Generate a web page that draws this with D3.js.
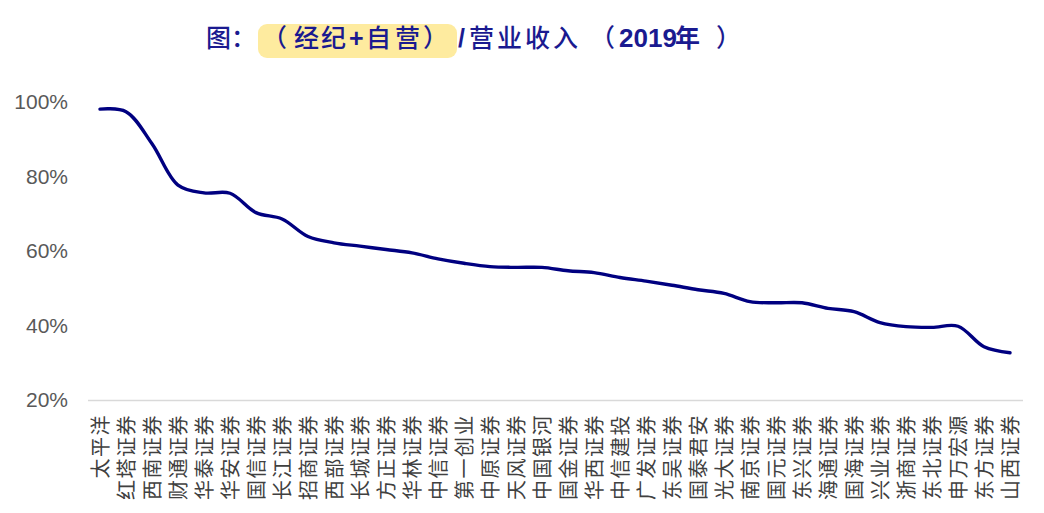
<!DOCTYPE html>
<html>
<head>
<meta charset="utf-8">
<script src="https://cdn.jsdelivr.net/npm/d3@7"></script>
<style>
  body { margin: 0; background: #fff; }
  svg { display: block; }
</style>
</head>
<body>
<div id="chart"></div>
<script>
const brokers = ['太平洋', '红塔证券', '西南证券', '财通证券', '华泰证券', '华安证券', '国信证券', '长江证券',
  '招商证券', '西部证券', '长城证券', '方正证券', '华林证券', '中信证券', '第一创业', '中原证券', '天风证券',
  '中国银河', '国金证券', '华西证券', '中信建投', '广发证券', '东吴证券', '国泰君安', '光大证券', '南京证券',
  '国元证券', '东兴证券', '海通证券', '国海证券', '兴业证券', '浙商证券', '东北证券', '申万宏源', '东方证券', '山西证券']

// (经纪+自营)/营业收入, %
const ratio = [98.1, 97.4, 88.8, 77.7, 75.6, 75.5, 70.3, 68.6, 63.9, 62.2, 61.3, 60.4, 59.5, 57.9, 56.7, 55.8,
  55.6, 55.6, 54.7, 54.2, 52.9, 51.9, 50.8, 49.6, 48.6, 46.4, 46.1, 46.1, 44.6, 43.7, 40.8, 39.7, 39.5, 39.8,
  34.3, 32.7]

const yTicks = [20, 40, 60, 80, 100]

const width = 1044
const height = 513

const svg = d3.select('#chart').append('svg')
  .attr('width', width)
  .attr('height', height)
  .attr('viewBox', [0, 0, width, height])

const x = d3.scalePoint()
  .domain(brokers)
  .range([100, 1010])

const y = d3.scaleLinear()
  .domain([20, 100])
  .range([400, 102])

// title, with the highlighted part
svg.append('rect')
  .attr('x', 258).attr('y', 24).attr('width', 199).attr('height', 34)
  .attr('rx', 9)
  .attr('fill', '#feeb9f')

const cjk = '"Noto Sans CJK SC", sans-serif'
const latin = '"Liberation Sans", Arial, sans-serif'
const t = svg.append('text')
  .attr('y', 47)
  .attr('font-family', cjk)
  .attr('font-size', 25)
  .attr('font-weight', 500)
  .attr('fill', '#1a1a90')
const parts = [
  { s: '图：', x: 206 },
  { s: '（', x: 262 },
  { s: '经纪', x: 294, ls: 2 },
  { s: '+', x: 349, f: latin, b: true, fs: 25 },
  { s: '自营', x: 366, ls: 4 },
  { s: '）', x: 423 },
  { s: '/', x: 458, f: latin, b: true, fs: 25 },
  { s: '营业收入', x: 469, ls: 3 },
  { s: '（', x: 590 },
  { s: '2019', x: 619, f: latin, b: true, fs: 26 },
  { s: '年', x: 675, b: true },
  { s: '）', x: 716 }
]
t.selectAll('tspan')
  .data(parts)
  .join('tspan')
  .attr('x', (d) => d.x)
  .attr('font-family', (d) => d.f || cjk)
  .attr('font-weight', (d) => (d.b ? 'bold' : null))
  .attr('font-size', (d) => d.fs || null)
  .attr('letter-spacing', (d) => d.ls || null)
  .text((d) => d.s)

// y axis (labels only)
svg.append('g')
  .attr('transform', 'translate(68,0)')
  .call(d3.axisLeft(y).tickValues(yTicks).tickSize(0).tickPadding(0).tickFormat((d) => d + '%'))
  .call((g) => g.select('.domain').remove())
  .call((g) => g.selectAll('text')
    .attr('font-family', latin)
    .attr('font-size', 21)
    .attr('fill', '#595959'))

// x axis
svg.append('g')
  .attr('transform', 'translate(0,400)')
  .call(d3.axisBottom(x).tickSize(0).tickPadding(0))
  .call((g) => g.select('.domain')
    .attr('d', 'M88,0.5H1023')
    .attr('stroke', '#d9d9d9')
    .attr('stroke-width', 1.5))
  .call((g) => g.selectAll('text')
    .attr('font-family', cjk)
    .attr('font-size', 20)
    .attr('letter-spacing', 1.5)
    .attr('fill', '#404040')
    .attr('text-anchor', 'end')
    .attr('dy', '0.35em')
    .attr('transform', 'translate(0,14) rotate(-90)'))

// line
const line = d3.line()
  .x((d, i) => x(brokers[i]))
  .y((d) => y(d))
  .curve(d3.curveCatmullRom.alpha(0.5))

svg.append('path')
  .datum(ratio)
  .attr('fill', 'none')
  .attr('stroke', '#000080')
  .attr('stroke-width', 3.4)
  .attr('stroke-linejoin', 'round')
  .attr('stroke-linecap', 'round')
  .attr('d', line)
</script>
</body>
</html>
